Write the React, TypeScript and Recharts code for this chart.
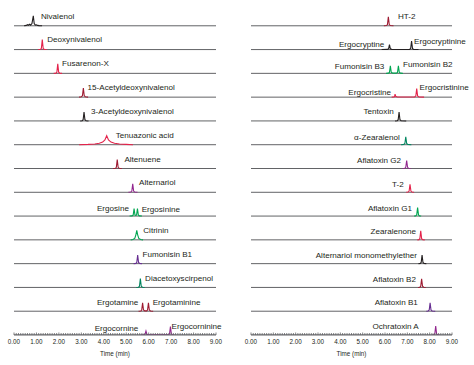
import React from 'react';
import { LineChart, Line, XAxis, YAxis, ReferenceDot } from 'recharts';

type Pt = [number, number];

// ---- Tick labels ----
const MAJOR_TICKS = [0, 1, 2, 3, 4, 5, 6, 7, 8, 9];
const MAJOR_LABELS = ['0.00', '1.00', '2.00', '3.00', '4.00', '5.00', '6.00', '7.00', '8.00', '9.00'];
const X_TITLE = 'Time (min)';

// ---- Left panel chromatograms (time min, relative intensity) ----
const nivalenol: Pt[] = [[0.45, 0], [0.55, 4], [0.6, 12], [0.64, 5], [0.7, 16], [0.74, 6], [0.8, 22], [0.86, 100], [0.9, 22], [0.95, 6], [1.0, 10], [1.05, 4], [1.12, 2], [1.25, 0]];
const deoxynivalenol: Pt[] = [[1.08, 0], [1.18, 2], [1.22, 12], [1.26, 100], [1.3, 12], [1.35, 2], [1.45, 0]];
const fusarenonX: Pt[] = [[1.77, 0], [1.87, 2], [1.91, 12], [1.95, 95], [1.99, 12], [2.04, 2], [2.14, 0]];
const acetylDon15: Pt[] = [[2.9, 0], [3.0, 3], [3.05, 14], [3.09, 90], [3.13, 14], [3.18, 3], [3.3, 0]];
const acetylDon3: Pt[] = [[2.95, 0], [3.04, 2], [3.08, 12], [3.12, 90], [3.16, 12], [3.21, 2], [3.32, 0]];
const tenuazonicAcid: Pt[] = [[2.9, 0], [3.3, 3], [3.6, 7], [3.8, 14], [3.95, 26], [4.05, 48], [4.13, 90], [4.21, 48], [4.32, 26], [4.48, 14], [4.7, 7], [5.0, 3], [5.3, 0]];
const altenuene: Pt[] = [[4.42, 0], [4.52, 2], [4.56, 12], [4.6, 90], [4.64, 12], [4.69, 2], [4.8, 0]];
const alternariol: Pt[] = [[5.1, 0], [5.2, 2], [5.25, 12], [5.29, 85], [5.33, 12], [5.38, 2], [5.5, 0]];
const ergosine: Pt[] = [[5.15, 0], [5.26, 2], [5.31, 10], [5.35, 75], [5.39, 10], [5.42, 6], [5.46, 10], [5.5, 75], [5.54, 10], [5.59, 2], [5.7, 0]];
const citrinin: Pt[] = [[5.2, 0], [5.3, 3], [5.38, 15], [5.43, 50], [5.47, 95], [5.51, 50], [5.56, 15], [5.64, 3], [5.75, 0]];
const fumonisinB1: Pt[] = [[5.33, 0], [5.43, 2], [5.47, 12], [5.51, 85], [5.55, 12], [5.6, 2], [5.7, 0]];
const diacetoxyscirpenol: Pt[] = [[5.45, 0], [5.55, 2], [5.59, 12], [5.63, 90], [5.67, 12], [5.72, 2], [5.82, 0]];
const ergotamine: Pt[] = [[5.55, 0], [5.65, 2], [5.69, 12], [5.73, 85], [5.77, 12], [5.83, 3], [5.91, 3], [5.95, 12], [5.99, 85], [6.03, 12], [6.08, 2], [6.2, 0]];
const ergocornine: Pt[] = [[5.65, 0], [5.78, 2], [5.84, 8], [5.88, 40], [5.92, 8], [6.0, 2], [6.5, 1], [6.88, 2], [6.93, 12], [6.97, 85], [7.01, 12], [7.06, 2], [7.15, 0]];

// ---- Right panel chromatograms ----
const ht2: Pt[] = [[5.95, 0], [6.06, 2], [6.11, 12], [6.15, 90], [6.19, 12], [6.24, 2], [6.38, 0]];
const ergocryptine: Pt[] = [[5.85, 0], [6.12, 2], [6.16, 8], [6.2, 50], [6.24, 8], [6.3, 2], [6.7, 1], [7.1, 2], [7.15, 12], [7.19, 85], [7.23, 12], [7.28, 2], [7.5, 0]];
const fumonisinB3B2: Pt[] = [[6.05, 0], [6.15, 2], [6.2, 10], [6.24, 75], [6.28, 10], [6.35, 2], [6.5, 2], [6.56, 10], [6.6, 75], [6.64, 10], [6.7, 2], [6.8, 0]];
const ergocristine: Pt[] = [[6.3, 0], [6.4, 2], [6.43, 8], [6.45, 30], [6.48, 8], [6.55, 2], [7.0, 1], [7.33, 2], [7.38, 12], [7.42, 85], [7.46, 12], [7.52, 2], [7.75, 0]];
const tentoxin: Pt[] = [[6.45, 0], [6.55, 2], [6.59, 12], [6.63, 90], [6.67, 12], [6.72, 2], [6.95, 0]];
const alphaZearalenol: Pt[] = [[6.72, 0], [6.84, 3], [6.89, 12], [6.93, 80], [6.97, 12], [7.02, 3], [7.18, 0]];
const aflatoxinG2: Pt[] = [[6.8, 0], [6.88, 2], [6.93, 12], [6.97, 80], [7.01, 12], [7.06, 2], [7.15, 0]];
const t2: Pt[] = [[6.95, 0], [7.03, 2], [7.08, 12], [7.12, 80], [7.16, 12], [7.21, 2], [7.3, 0]];
const aflatoxinG1: Pt[] = [[7.3, 0], [7.37, 2], [7.42, 12], [7.46, 85], [7.5, 12], [7.55, 2], [7.62, 0]];
const zearalenone: Pt[] = [[7.45, 0], [7.52, 2], [7.56, 12], [7.6, 90], [7.64, 12], [7.69, 2], [7.78, 0]];
const ame: Pt[] = [[7.5, 0], [7.58, 2], [7.62, 12], [7.66, 85], [7.7, 12], [7.75, 2], [7.85, 0]];
const aflatoxinB2: Pt[] = [[7.48, 0], [7.56, 2], [7.6, 12], [7.64, 85], [7.68, 12], [7.73, 2], [7.82, 0]];
const aflatoxinB1: Pt[] = [[7.85, 0], [7.93, 2], [7.98, 12], [8.02, 85], [8.06, 12], [8.11, 2], [8.25, 0]];
const ochratoxinA: Pt[] = [[8.12, 0], [8.19, 2], [8.23, 12], [8.27, 90], [8.31, 12], [8.36, 2], [8.45, 0]];

// ---- Colours ----
const BLACK = '#231f20';
const RED = '#e4234b';
const DARKRED = '#9e1b32';
const PURPLE = '#92278f';
const VIOLET = '#662d91';
const GREEN = '#00a651';
const DKGREEN = '#00855f';
const BASE_GRAY = '#626366';

const leftTraces: Pt[][] = [nivalenol, deoxynivalenol, fusarenonX, acetylDon15, acetylDon3, tenuazonicAcid, altenuene, alternariol, ergosine, citrinin, fumonisinB1, diacetoxyscirpenol, ergotamine, ergocornine];
const leftColors = [BLACK, RED, RED, DARKRED, BLACK, RED, DARKRED, PURPLE, GREEN, GREEN, VIOLET, DKGREEN, DARKRED, PURPLE];

const rightTraces: Pt[][] = [ht2, ergocryptine, fumonisinB3B2, ergocristine, tentoxin, alphaZearalenol, aflatoxinG2, t2, aflatoxinG1, zearalenone, ame, aflatoxinB2, aflatoxinB1, ochratoxinA];
const rightColors = [DARKRED, BLACK, GREEN, RED, BLACK, DKGREEN, PURPLE, RED, GREEN, RED, BLACK, DARKRED, VIOLET, PURPLE];

// ---- Compound labels: row, text, time of text edge, side, height above baseline (rows) ----
type Lbl = { row: number; text: string; t: number; side: 'l' | 'r'; h: number };
const leftLabels: Lbl[] = [
  { row: 0, text: 'Nivalenol', t: 1.2, side: 'r', h: 0.41 },
  { row: 1, text: 'Deoxynivalenol', t: 1.48, side: 'r', h: 0.42 },
  { row: 2, text: 'Fusarenon-X', t: 2.14, side: 'r', h: 0.41 },
  { row: 3, text: '15-Acetyldeoxynivalenol', t: 3.28, side: 'r', h: 0.4 },
  { row: 4, text: '3-Acetyldeoxynivalenol', t: 3.43, side: 'r', h: 0.4 },
  { row: 5, text: 'Tenuazonic acid', t: 4.53, side: 'r', h: 0.4 },
  { row: 6, text: 'Altenuene', t: 4.92, side: 'r', h: 0.41 },
  { row: 7, text: 'Alternariol', t: 5.57, side: 'r', h: 0.41 },
  { row: 8, text: 'Ergosine', t: 5.12, side: 'l', h: 0.33 },
  { row: 8, text: 'Ergosinine', t: 5.69, side: 'r', h: 0.31 },
  { row: 9, text: 'Citrinin', t: 5.76, side: 'r', h: 0.41 },
  { row: 10, text: 'Fumonisin B1', t: 5.73, side: 'r', h: 0.4 },
  { row: 11, text: 'Diacetoxyscirpenol', t: 5.84, side: 'r', h: 0.39 },
  { row: 12, text: 'Ergotamine', t: 5.54, side: 'l', h: 0.4 },
  { row: 12, text: 'Ergotaminine', t: 6.18, side: 'r', h: 0.4 },
  { row: 13, text: 'Ergocornine', t: 5.54, side: 'l', h: 0.28 },
  { row: 13, text: 'Ergocorninine', t: 7.02, side: 'r', h: 0.37 },
];
const rightLabels: Lbl[] = [
  { row: 0, text: 'HT-2', t: 6.58, side: 'r', h: 0.4 },
  { row: 1, text: 'Ergocryptine', t: 5.97, side: 'l', h: 0.24 },
  { row: 1, text: 'Ergocryptinine', t: 7.3, side: 'r', h: 0.37 },
  { row: 2, text: 'Fumonisin B3', t: 5.97, side: 'l', h: 0.32 },
  { row: 2, text: 'Fumonisin B2', t: 6.81, side: 'r', h: 0.37 },
  { row: 3, text: 'Ergocristine', t: 6.27, side: 'l', h: 0.21 },
  { row: 3, text: 'Ergocristinine', t: 7.55, side: 'r', h: 0.41 },
  { row: 4, text: 'Tentoxin', t: 6.39, side: 'l', h: 0.39 },
  { row: 5, text: 'α-Zearalenol', t: 6.66, side: 'l', h: 0.32 },
  { row: 6, text: 'Aflatoxin G2', t: 6.72, side: 'l', h: 0.36 },
  { row: 7, text: 'T-2', t: 6.84, side: 'l', h: 0.34 },
  { row: 8, text: 'Aflatoxin G1', t: 7.21, side: 'l', h: 0.33 },
  { row: 9, text: 'Zearalenone', t: 7.39, side: 'l', h: 0.37 },
  { row: 10, text: 'Alternariol monomethylether', t: 7.43, side: 'l', h: 0.37 },
  { row: 11, text: 'Aflatoxin B2', t: 7.39, side: 'l', h: 0.35 },
  { row: 12, text: 'Aflatoxin B1', t: 7.47, side: 'l', h: 0.37 },
  { row: 13, text: 'Ochratoxin A', t: 7.51, side: 'l', h: 0.37 },
];

const ROWS = 14;
const INTENSITY_SCALE = 0.0042; // rows per intensity unit
const LABEL_FONT = '"Liberation Sans", Arial, sans-serif';
const MINOR_TICKS = Array.from({ length: 91 }, (_, i) => i / 10);

const baseOf = (row: number) => ROWS - 1 - row;

const TimeTick = (props: any) => {
  const { x, y, payload } = props;
  const v = payload.value as number;
  const mi = MAJOR_TICKS.findIndex((m) => Math.abs(m - v) < 1e-6);
  const major = mi >= 0;
  return (
    <g>
      <line x1={x} x2={x} y1={y} y2={y - (major ? 2.5 : 2)} stroke={BASE_GRAY} strokeWidth={0.8} />
      {major && (
        <text x={x} y={y + 8.5} textAnchor="middle" fontSize={6.3} fontFamily={LABEL_FONT} fill={BLACK}>
          {MAJOR_LABELS[mi]}
        </text>
      )}
    </g>
  );
};

const Panel = ({ traces, colors, labels, left, marginLeft, marginRight }: { traces: Pt[][]; colors: string[]; labels: Lbl[]; left: number; marginLeft: number; marginRight: number }) => (
  <div style={{ position: 'absolute', left, top: 0 }}>
    <LineChart width={237} height={365} margin={{ top: 2, right: marginRight, bottom: 0, left: marginLeft }}>
      <XAxis
        type="number"
        dataKey="t"
        domain={[0, 9]}
        ticks={MINOR_TICKS}
        interval={0}
        allowDataOverflow
        height={30}
        tickSize={0}
        tickMargin={0}
        tickLine={false}
        tick={<TimeTick />}
        axisLine={{ stroke: BASE_GRAY, strokeWidth: 1 }}
        label={{ value: X_TITLE, position: 'insideBottom', offset: 9, fontSize: 6.3, fontFamily: LABEL_FONT, fill: BLACK }}
      />
      <YAxis type="number" domain={[0, ROWS]} hide allowDataOverflow />
      {traces.map((_, r) => (
        <Line
          key={`b${r}`}
          data={[{ t: 0, v: baseOf(r) }, { t: 9, v: baseOf(r) }]}
          dataKey="v"
          stroke={BASE_GRAY}
          strokeWidth={1}
          dot={false}
          isAnimationActive={false}
          type="linear"
        />
      ))}
      {traces.map((pts, r) => (
        <Line
          key={`s${r}`}
          data={pts.map(([t, i]) => ({ t, v: baseOf(r) + i * INTENSITY_SCALE }))}
          dataKey="v"
          stroke={colors[r]}
          strokeWidth={1.1}
          dot={false}
          isAnimationActive={false}
          type="linear"
        />
      ))}
      {labels.map((l, k) => (
        <ReferenceDot
          key={`l${k}`}
          x={l.t}
          y={baseOf(l.row) + l.h}
          r={0}
          ifOverflow="visible"
          shape={(p: any) => (
            <text
              x={p.cx}
              y={p.cy}
              dy="0.35em"
              textAnchor={l.side === 'r' ? 'start' : 'end'}
              fontSize={8.1}
              fontFamily={LABEL_FONT}
              fill={BLACK}
            >
              {l.text}
            </text>
          )}
        />
      ))}
    </LineChart>
  </div>
);

export default function App() {
  return (
    <div style={{ position: 'absolute', left: 0, top: 0, width: 474, height: 365, background: '#fff' }}>
      <Panel traces={leftTraces} colors={leftColors} labels={leftLabels} left={0} marginLeft={14} marginRight={21} />
      <Panel traces={rightTraces} colors={rightColors} labels={rightLabels} left={237} marginLeft={14} marginRight={22} />
    </div>
  );
}
